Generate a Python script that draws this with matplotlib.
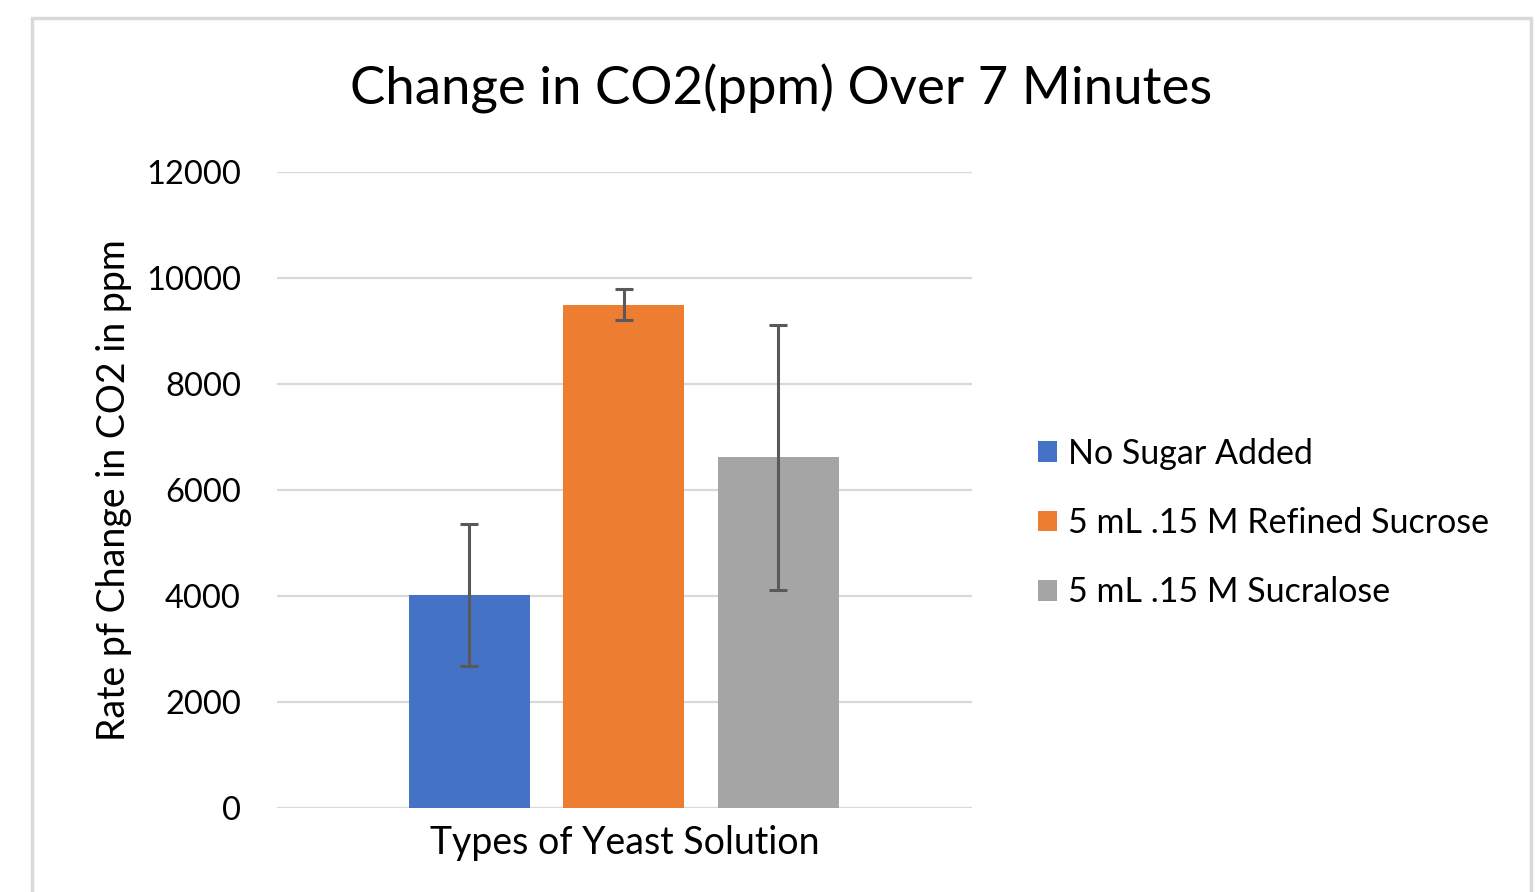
import numpy as np
import matplotlib
matplotlib.use('Agg')
import matplotlib.pyplot as plt
from matplotlib.patches import Rectangle

# Data
categories = ['No Sugar Added', '5 mL .15 M Refined Sucrose', '5 mL .15 M Sucralose']
means = [4020, 9500, 6620]
errors = [1345, 300, 2500]
colors = ['#4472C4', '#ED7D31', '#A5A5A5']
yticks = [0, 2000, 4000, 6000, 8000, 10000, 12000]

plt.rcParams['font.family'] = ['Lato', 'DejaVu Sans']

W, H = 1535, 892
fig = plt.figure(figsize=(W / 100, H / 100), dpi=100)

# chart border (Excel style)
fig.patches.append(Rectangle((32 / W, -0.05), (1531 - 32) / W, 1.05 - 18 / H,
                             transform=fig.transFigure, fill=False,
                             edgecolor='#d9d9d9', linewidth=2.5))

ax = fig.add_axes([277 / W, 1 - 808 / H, (972 - 277) / W, (808 - 172) / H])

xs = np.arange(len(categories))
for i in range(len(categories)):
    ax.bar(xs[i], means[i], width=0.785, color=colors[i], label=categories[i], zorder=2)
    ax.errorbar(xs[i], means[i], yerr=errors[i], fmt='none', ecolor='#595959',
                elinewidth=2.2, capsize=6.5, capthick=2.2, zorder=3)

ax.set_xlim(-1.245, 3.255)
ax.set_ylim(0, 12000)
ax.set_yticks(yticks)
ax.set_yticklabels([str(v) for v in yticks], fontsize=23.5)
ax.set_xticks([])
ax.grid(axis='y', color='#d9d9d9', linewidth=1.6, zorder=0)
ax.tick_params(axis='y', length=0, pad=26)
for s in ax.spines.values():
    s.set_visible(False)
ax.set_axisbelow(True)

ax.set_xlabel('Types of Yeast Solution', fontsize=27, labelpad=12)
ax.set_ylabel('Rate pf Change in CO2 in ppm', fontsize=27, labelpad=10)

fig.text(781 / W, 1 - 89 / H, 'Change in CO2(ppm) Over 7 Minutes', fontsize=38,
         ha='center', va='center')

ax.legend(loc='center left', bbox_to_anchor=(1007 / W, 1 - 523 / H),
          bbox_transform=fig.transFigure, frameon=False, fontsize=24.5,
          handlelength=0.56, handleheight=0.56, handletextpad=0.32,
          labelspacing=1.1)

fig.savefig('out.png', dpi=100)
